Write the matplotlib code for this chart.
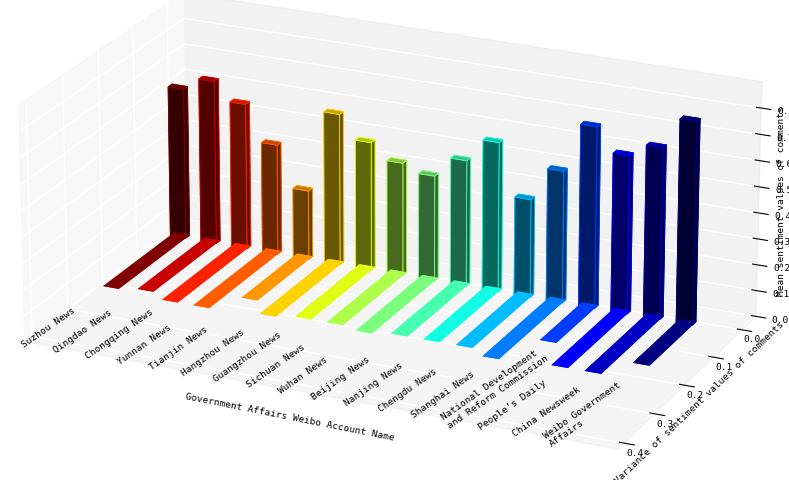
import numpy as np
import matplotlib
matplotlib.use("Agg")
import matplotlib.pyplot as plt

accounts = ["Suzhou News", "Qingdao News", "Chongqing News", "Yunnan News",
            "Tianjin News", "Hangzhou News", "Guangzhou News", "Sichuan News",
            "Wuhan News", "Beijing News", "Nanjing News", "Chengdu News",
            "Shanghai News", "National Development\nand Reform Commission",
            "People’s Daily", "China Newsweek", "Weibo Government\nAffairs"]
mean_vals = [0.59, 0.64, 0.57, 0.43, 0.27, 0.59, 0.50, 0.44, 0.41, 0.49,
             0.58, 0.38, 0.51, 0.70, 0.61, 0.66, 0.78]
var_vals = [0.21, 0.20, 0.22, 0.22, 0.17, 0.21, 0.20, 0.20, 0.21, 0.20,
            0.20, 0.20, 0.22, 0.14, 0.21, 0.21, 0.16]
y_ticks = [0.0, 0.1, 0.2, 0.3, 0.4]
z_ticks = [0.0, 0.1, 0.2, 0.3, 0.4, 0.5, 0.6, 0.7, 0.8]

plt.rcParams["font.family"] = ["DejaVu Sans Mono"]
plt.rcParams["font.size"] = 6.8

fig = plt.figure(figsize=(7.89, 4.8), dpi=100)
ax = fig.add_axes([-0.011, 0.045, 1, 1], projection="3d")

n = len(accounts)
x = np.arange(n)
colors = plt.cm.jet_r(np.linspace(0, 1, n))
edge_cols = np.repeat(colors, 6, axis=0)

tall = ax.bar3d(x, np.zeros(n), np.zeros(n), 0.5, 0.012, mean_vals,
                color=colors, shade=True, edgecolor=edge_cols, linewidth=0.6)
flat = ax.bar3d(x, np.zeros(n), np.zeros(n), 0.5, var_vals, 0.0005,
                color=colors, shade=False)
tall.set_clip_on(False)
flat.set_clip_on(False)

ax.set_xlim(0, 17.9)
ax.set_ylim(0.42, -0.05)
ax.set_zlim(0, 0.9)

ax.set_xticks(x - 0.13)
ax.set_xticklabels(accounts, rotation=35, ha="left", va="center",
                   rotation_mode="anchor")
ax.set_yticks(y_ticks)
ax.set_yticklabels([f"{v:.1f}" for v in y_ticks])
ax.set_zticks(z_ticks)
ax.set_zticklabels([f"{v:.1f}" for v in z_ticks])
ax.xaxis.set_tick_params(length=0, pad=-6, color=(0, 0, 0, 0))
ax.xaxis._axinfo["tick"]["inward_factor"] = 0.0
ax.xaxis._axinfo["tick"]["outward_factor"] = 0.0
ax.yaxis.set_tick_params(pad=-5)
ax.zaxis.set_tick_params(pad=-2)

ax.set_xlabel("")
ax.set_ylabel("")
ax.set_zlabel("")
fig.text(290 / 789, 1 - 417 / 480, "Government Affairs Weibo Account Name",
         rotation=-11.3, ha="center", va="center")
fig.text(699 / 789, 1 - 403 / 480, "Variance of sentiment values of comments",
         rotation=43.7, ha="center", va="center")
fig.text(782 / 789, 1 - 201 / 480, "Mean sentiment values of comments",
         rotation=90, ha="center", va="center")

for axis in (ax.xaxis, ax.yaxis, ax.zaxis):
    axis.line.set_color((1, 1, 1, 0))
    axis._axinfo["grid"]["color"] = (1, 1, 1, 1)
    axis._axinfo["grid"]["linewidth"] = 1.0
ax.xaxis._axinfo["grid"]["color"] = (1, 1, 1, 0)
ax.xaxis._axinfo["grid"]["linewidth"] = 0

ax.set_proj_type("persp", focal_length=2.25)
ax.view_init(elev=21.5, azim=-65.5)
ax.set_box_aspect((2.64, 1.5, 1.04), zoom=1.582)

fig.savefig("out.png", dpi=100)
